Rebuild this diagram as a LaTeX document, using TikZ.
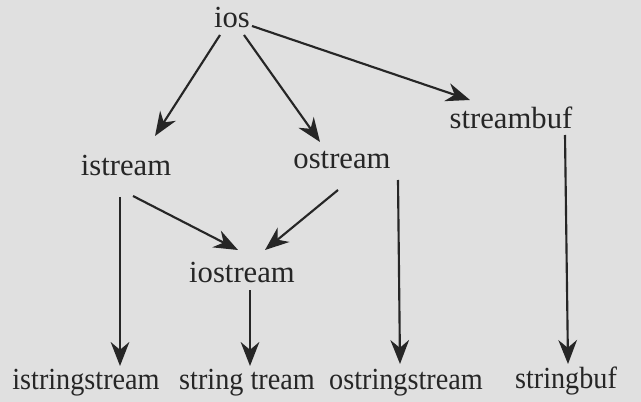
\documentclass[tikz,border=0pt]{standalone}
\usepackage{fontspec}
\setmainfont{Liberation Serif}
\usetikzlibrary{arrows.meta}
\begin{document}
\begin{tikzpicture}[x=0.75pt,y=-0.75pt,
  lbl/.style={inner sep=1pt,font=\rmfamily\fontsize{23}{25}\selectfont,text=black!85},
  blbl/.style={lbl,xscale=0.92},
  arr/.style={-{Stealth[length=18pt,width=14pt]},line width=1.6pt,black!85}]
\fill[black!12] (0,0) rectangle (641,402);
\useasboundingbox (0,0) rectangle (641,402);
\node[lbl] (ios) at (232,18) {ios};
\node[lbl] (is) at (126,165) {istream};
\node[lbl] (os) at (342,160) {ostream};
\node[lbl] (sb) at (511,118) {streambuf};
\node[lbl] (ios2) at (242,272) {iostream};
\node[blbl] (iss) at (86,383) {istringstream};
\node[blbl] (st) at (247,383) {string tream};
\node[blbl] (oss) at (406,383) {ostringstream};
\node[blbl] (sbuf) at (566,381) {stringbuf};
\coordinate (a1) at (220,35); \coordinate (a2) at (244,35); \coordinate (a3) at (252,26);
\draw[arr] (a1) -- (155,136);
\draw[arr] (a2) -- (320,142);
\draw[arr] (a3) -- (470,100);
\draw[arr] (133,196) -- (238,250);
\draw[arr] (338,190) -- (265,250);
\draw[arr] (120,197) -- (120,366);
\draw[arr] (250,290) -- (250,366);
\draw[arr] (398,180) -- (400,364);
\draw[arr] (565,135) -- (568,364);
\end{tikzpicture}
\end{document}
